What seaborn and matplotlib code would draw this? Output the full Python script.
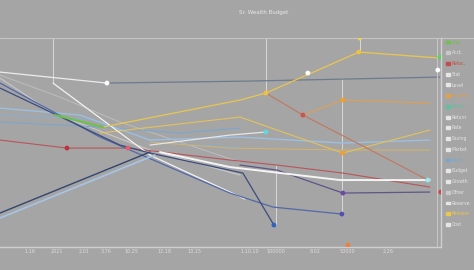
import matplotlib
matplotlib.use("Agg")
import matplotlib.pyplot as plt
import seaborn as sns
from matplotlib.patches import Patch

sns.set_theme(style="dark")
plt.rcParams['font.family'] = ['DejaVu Sans']

BG = "#a5a5a5"

# x positions of the ticks and their labels
tick_x = [30, 57, 84, 106, 132, 165, 195, 250, 276, 315, 348, 388]
tick_labels = ["1.16", "2021", "2.01", "3.76", "10.25", "12.18",
               "13.15", "1.10.10", "100000", "8.02", "50000", "2.26"]

# series: (x, y, colour, width)
pale_x = [0, 107]
pale_y = [175, 164]
slate_x = [107, 250, 440]
slate_y = [164, 166, 170]
grey_x = [0, 53, 150, 240]
grey_y = [169, 134, 97, 72]
grey2_x = [0, 60, 120, 240]
grey2_y = [172, 150, 125, 85]
whitedrop_x = [53, 150, 245]
whitedrop_y = [164, 92, 48]
navy_x = [0, 120, 150, 243, 274]
navy_y = [159, 102, 94, 74, 22]
blue_x = [0, 100, 230, 273, 342]
blue_y = [164, 110, 54, 40, 33]
lightblue_a_x = [0, 80, 150, 240, 343, 430]
lightblue_a_y = [139, 132, 107, 110, 104, 107]
lightblue_b_x = [0, 100, 180, 240]
lightblue_b_y = [125, 120, 114, 119]
lightblue_c_x = [0, 90, 160, 240]
lightblue_c_y = [132, 128, 104, 100]
rise_x = [0, 150]
rise_y = [34, 95]
rise2_x = [0, 155]
rise2_y = [29, 92]
green_x = [55, 103]
green_y = [132, 120]
yellow_x = [103, 240, 266, 359, 440]
yellow_y = [120, 147, 154, 195, 189]
yellow2_x = [100, 240, 343, 430]
yellow2_y = [114, 130, 94, 117]
tan_x = [150, 230, 343, 430]
tan_y = [105, 99, 97, 97]
rust_x = [266, 303, 365, 428]
rust_y = [154, 132, 100, 67]
orange_x = [303, 343, 430]
orange_y = [132, 147, 144]
whitecyan_x = [150, 230, 266]
whitecyan_y = [102, 112, 115]
whiteright_x = [160, 230, 340, 430]
whiteright_y = [95, 80, 67, 67]
red_x = [0, 67, 128, 230, 277, 343, 430]
red_y = [107, 99, 99, 87, 82, 74, 60]
plum_x = [240, 277, 343, 430]
plum_y = [82, 77, 54, 55]

series = [
    (grey2_x, grey2_y, "#bdbdbd", 0.7),
    (grey_x, grey_y, "#c8c8c8", 0.8),
    (lightblue_c_x, lightblue_c_y, "#8aaed2", 0.7),
    (lightblue_b_x, lightblue_b_y, "#7aa6cf", 0.8),
    (lightblue_a_x, lightblue_a_y, "#9cbfe0", 1.0),
    (tan_x, tan_y, "#d6b36a", 0.7),
    (yellow2_x, yellow2_y, "#e3c25a", 0.8),
    (red_x, red_y, "#b9555a", 0.8),
    (plum_x, plum_y, "#5e5688", 0.9),
    (whitedrop_x, whitedrop_y, "#f2f2f2", 0.9),
    (whiteright_x, whiteright_y, "#f4f4f4", 1.4),
    (blue_x, blue_y, "#5468a8", 0.9),
    (navy_x, navy_y, "#3c4c7e", 0.9),
    (rise2_x, rise2_y, "#a7c4e4", 1.2),
    (rise_x, rise_y, "#33466f", 1.0),
    (slate_x, slate_y, "#6c7b90", 0.9),
    (pale_x, pale_y, "#ececec", 0.9),
    (whitecyan_x, whitecyan_y, "#e6e6e6", 0.9),
    (rust_x, rust_y, "#c0785e", 0.8),
    (orange_x, orange_y, "#e0a050", 0.8),
    (yellow_x, yellow_y, "#eac64c", 0.9),
    (green_x, green_y, "#6cc24a", 1.5),
]

# markers
mark_x = [107, 266, 359, 360, 308, 303, 343, 266, 343, 428, 274, 342, 343,
          67, 128, 440, 438, 441, 348]
mark_y = [164, 154, 195, 209, 174, 132, 147, 115, 94, 67, 22, 33, 54,
          99, 99, 190, 177, 55, 2]
mark_c = ["#ffffff", "#f0c040", "#f0c040", "#e6d060", "#ffffff", "#d05050",
          "#f0a030", "#60d8e0", "#f0a030", "#a0e8f0", "#3060c0", "#5050b0",
          "#6a4aa0", "#c03040", "#e06070", "#60d060", "#ffffff", "#d04050",
          "#f08040"]

# drop lines
guide_x = [53, 266, 360, 342, 276]
guide_lo = [164, 154, 195, 33, 22]
guide_hi = [209, 209, 209, 169, 82]

fig = plt.figure(figsize=(4.74, 2.70), dpi=100)
fig.patch.set_facecolor(BG)
ax = fig.add_axes([0.0, 0.085, 0.930, 0.774])
ax.set_facecolor(BG)

ax.vlines(guide_x, guide_lo, guide_hi, color="#d8d8d8", lw=0.7)

for xs, ys, col, lw in series:
    sns.lineplot(x=xs, y=ys, ax=ax, color=col, lw=lw, sort=False)

for mx, my, mc in zip(mark_x, mark_y, mark_c):
    sns.scatterplot(x=[mx], y=[my], ax=ax, color=mc, s=12,
                    edgecolor="none", zorder=5)

ax.set_xlim(0, 441)
ax.set_ylim(0, 209)
ax.set_xticks(tick_x)
ax.set_xticklabels(tick_labels, fontsize=3.5, color="#dcdcdc")
ax.set_yticks([])
ax.tick_params(axis="x", length=0, pad=1.5)
ax.grid(False)
ax.spines["left"].set_visible(False)
ax.spines["top"].set_visible(False)
for side in ["bottom", "right"]:
    ax.spines[side].set_visible(True)
    ax.spines[side].set_color("#cfcfcf")
    ax.spines[side].set_linewidth(1.0)
ax.axhline(209, xmin=0, xmax=1.075, color="#c4c4c4", lw=0.8, clip_on=False)
ax.axvline(437, color="#c8c8c8", lw=0.7)

fig.text(0.557, 0.955, "Sr. Wealth Budget", ha="center", va="center",
         fontsize=4, color="#e8e8e8")

legend_names = ["Vrel.", "Acct.", "Reloc.", "Stat", "Level", "Income",
                "Divid.", "Return", "Rate", "Saving", "Market", "Debt",
                "Budget", "Growth", "Other", "Reserve", "Pension", "Cost"]
legend_cols = ["#6cc24a", "#c8c8c8", "#c0504d", "#e6e6e6", "#e6e6e6",
               "#e0a050", "#60c0a0", "#e6e6e6", "#e6e6e6", "#e6e6e6",
               "#e6e6e6", "#7aa6cf", "#e6e6e6", "#e6e6e6", "#c8c8c8",
               "#e6e6e6", "#eac64c", "#e6e6e6"]
handles = [Patch(color=c) for c in legend_cols]
leg = fig.legend(handles, legend_names, loc="upper left",
                 bbox_to_anchor=(0.937, 0.86), frameon=False,
                 fontsize=3.3, handlelength=0.8, handleheight=0.6,
                 handletextpad=0.5, labelspacing=1.25, borderaxespad=0)
for t, c in zip(leg.get_texts(), legend_cols):
    t.set_color(c if c not in ("#e6e6e6", "#c8c8c8") else "#e4e4e4")

fig.savefig("out.png", facecolor=BG)
